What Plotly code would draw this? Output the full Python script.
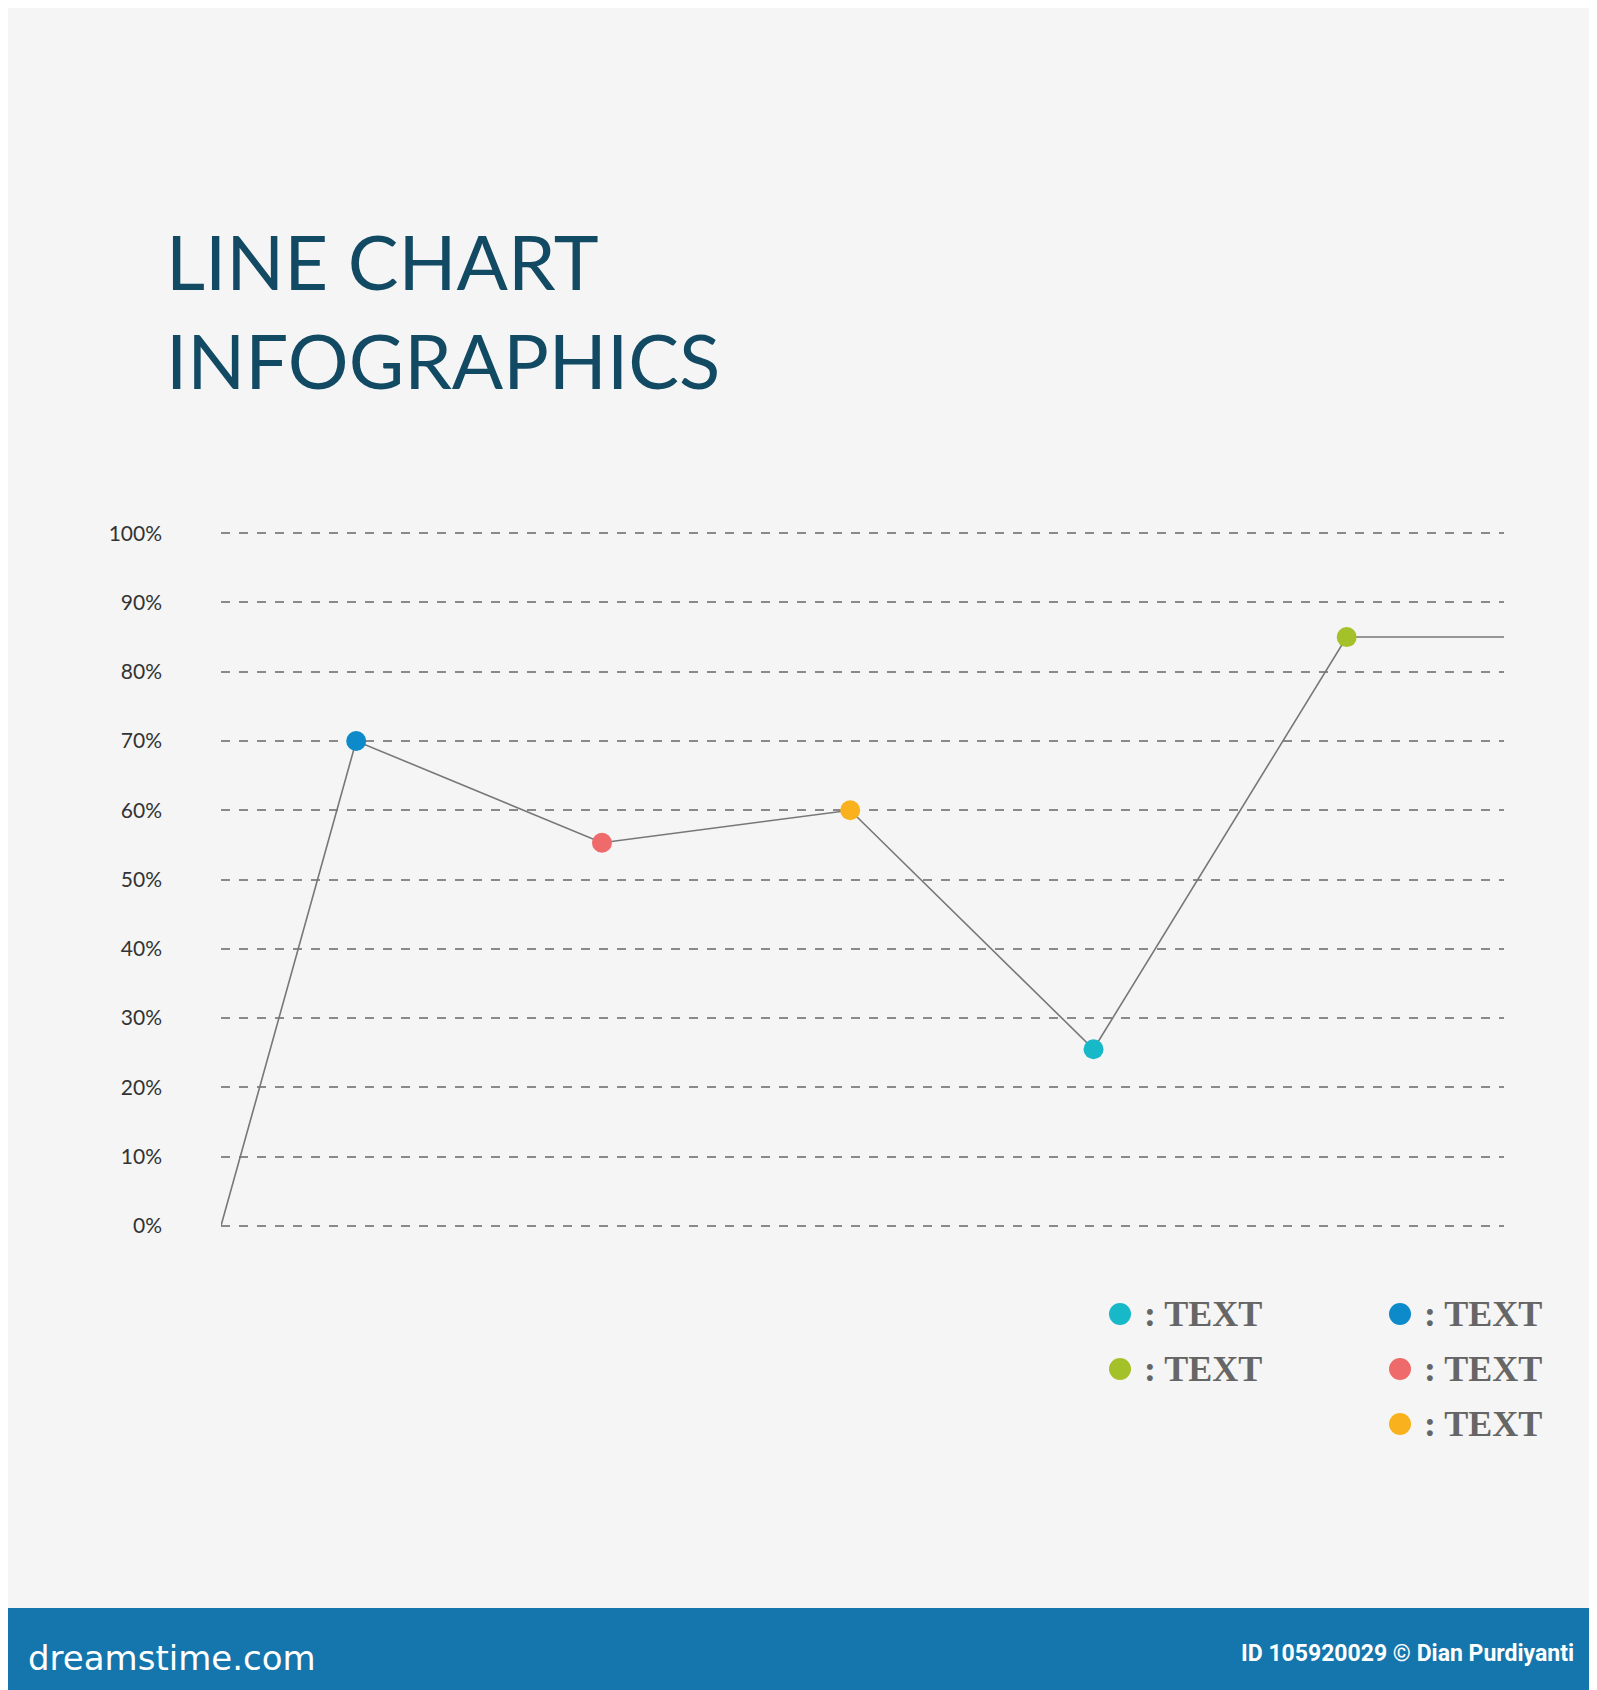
import plotly.graph_objects as go

x_pos = [0, 0.55, 1.55, 2.56, 3.55, 4.58, 5.22]
values = [0, 70, 55.3, 60, 25.5, 85, 85]
point_colors = [None, "#0d8ac9", "#ef6b6b", "#f9b11d", "#17b8c8", "#a4c12a", None]
y_ticks = [0, 10, 20, 30, 40, 50, 60, 70, 80, 90, 100]
y_labels = [f"{v}%" for v in y_ticks]
legend_colors = ["#17b8c8", "#a4c12a", "#0d8ac9", "#ef6b6b", "#f9b11d"]
legend_labels = [": TEXT"] * 5

W, H = 1597, 1690
fig = go.Figure()
fig.add_trace(go.Scatter(x=x_pos, y=values, mode="lines",
                         line=dict(color="#777777", width=1.6), hoverinfo="skip"))
mx = [x for x, c in zip(x_pos, point_colors) if c]
my = [y for y, c in zip(values, point_colors) if c]
mc = [c for c in point_colors if c]
fig.add_trace(go.Scatter(x=mx, y=my, mode="markers",
                         marker=dict(color=mc, size=20, line=dict(width=0))))

# plot area pixels: y 521..1222 maps to -0.6..100.6
TOP, BOT = 521, 1222
PH = BOT - TOP
shapes = []
annotations = []

def py(pix):
    return (BOT - pix) / PH
def px(pix):
    return (pix - 213) / 1283

shapes.append(dict(type="rect", xref="paper", yref="paper", x0=-0.2, x1=1.2,
                   y0=py(1700), y1=py(1600), fillcolor="#1476ad", line_width=0, layer="below"))

leg_pos = [(1112, 1306), (1112, 1361), (1392, 1306), (1392, 1361), (1392, 1416)]
for (lx, ly), c, t in zip(leg_pos, legend_colors, legend_labels):
    r = 11
    shapes.append(dict(type="circle", xref="paper", yref="paper",
                       x0=px(lx - r), x1=px(lx + r), y0=py(ly + r), y1=py(ly - r),
                       fillcolor=c, line_width=0))
    annotations.append(dict(xref="paper", yref="paper", x=px(lx + 22), y=py(ly),
                            xanchor="left", yanchor="middle", showarrow=False, text="<b>" + t + "</b>",
                            font=dict(family="Liberation Sans Narrow", size=36, color="#666666")))

annotations.append(dict(xref="paper", yref="paper", x=px(156), y=py(205), xanchor="left", yanchor="top",
                        showarrow=False, text="LINE CHART<br>INFOGRAPHICS", align="left",
                        font=dict(family="Lato, Open Sans", size=76, color="#124a63")))
annotations.append(dict(xref="paper", yref="paper", x=px(18), y=py(1650), xanchor="left", yanchor="middle",
                        showarrow=False, text="dreamstime.com",
                        font=dict(family="DejaVu Sans", size=34, color="white")))
annotations.append(dict(xref="paper", yref="paper", x=px(1568), y=py(1645), xanchor="right", yanchor="middle",
                        showarrow=False, text="<b>ID 105920029 © Dian Purdiyanti</b>",
                        font=dict(family="Roboto", size=23, color="white")))

fig.update_layout(
    width=W, height=H, margin=dict(l=213, r=101, t=TOP, b=H - BOT),
    paper_bgcolor="#f5f5f5", plot_bgcolor="#f5f5f5", showlegend=False,
    shapes=shapes, annotations=annotations,
    xaxis=dict(range=[0, 5.22], visible=False),
    yaxis=dict(range=[-0.6, 100.6], tickvals=y_ticks, ticktext=y_labels, showgrid=True,
               gridcolor="#8a8a8a", griddash="dash", gridwidth=1.5, zeroline=False,
               showline=False, ticks="", ticklabelstandoff=58,
               tickfont=dict(family="Lato, Open Sans", size=21, color="#333333")),
)
fig.write_html("out.html")
